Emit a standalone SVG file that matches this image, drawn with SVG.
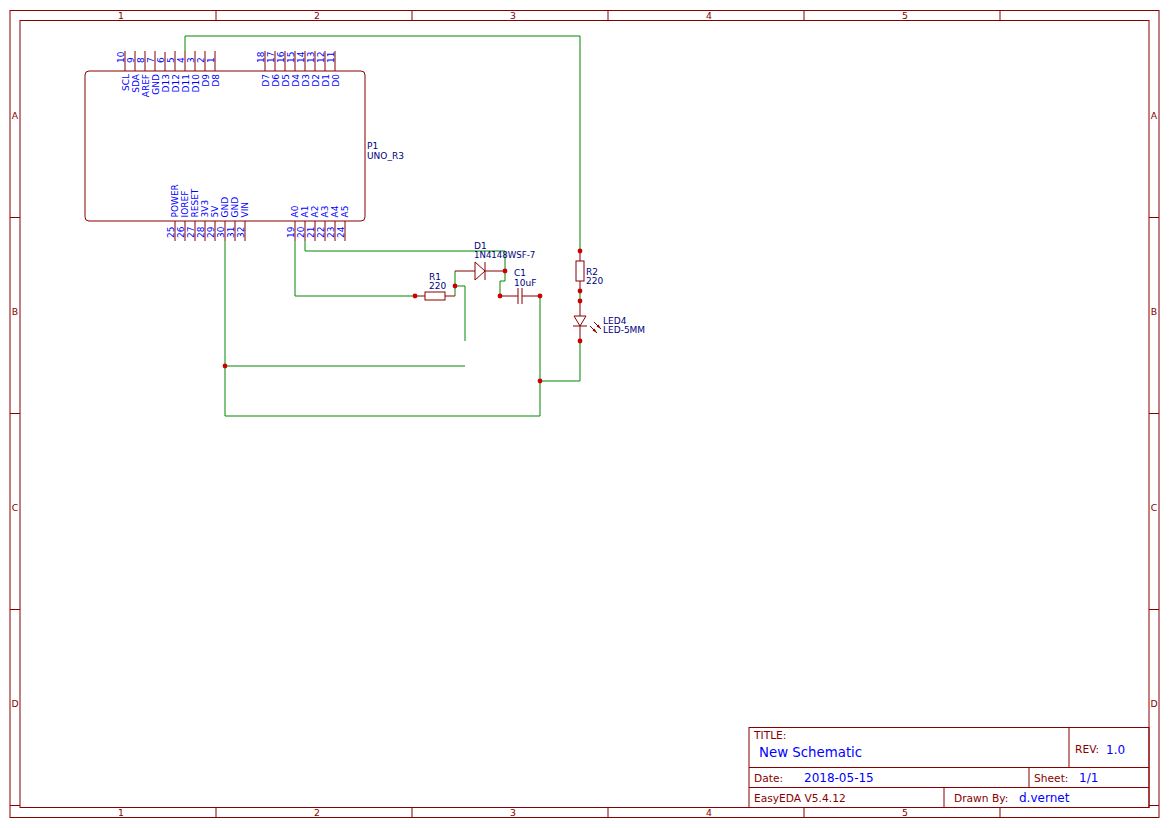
<svg xmlns="http://www.w3.org/2000/svg" width="1169" height="828" viewBox="0 0 1169 828">
<defs><style>
text{font-family:"DejaVu Sans",sans-serif;white-space:pre}
.f{fill:none;stroke:#880000;stroke-width:1}
.p{fill:none;stroke:#880000;stroke-width:1}
.a{fill:#880000;stroke:none}
.w{fill:none;stroke:#008800;stroke-width:1}
.ft{font-size:9.300px;fill:#880000;text-anchor:middle}
.tl{font-size:10.670px;fill:#880000}
.tv{fill:#0000ff}
.pn{font-size:9px;fill:#0000ff}
.an{font-size:9px;fill:#000080}
.j{fill:#cc0000}
</style></defs>
<rect width="1169" height="828" fill="#ffffff"/>
<g id="frame">
<rect class="f" x="10" y="10.5" width="1149" height="807"/>
<rect class="f" x="20" y="20.5" width="1129" height="787"/>
<path class="f" d="M216 10.500V20.500M412 10.500V20.500M608 10.500V20.500M804 10.500V20.500M1000 10.500V20.500M216 807.500V817.500M412 807.500V817.500M608 807.500V817.500M804 807.500V817.500M1000 807.500V817.500M10 217.500H20M10 413.500H20M10 609.500H20M10 805.500H20M1149 217.500H1159M1149 413.500H1159M1149 609.500H1159M1149 805.500H1159"/>
<g class="ft">
<text x="121" y="19">1</text><text x="317" y="19">2</text><text x="513" y="19">3</text><text x="709" y="19">4</text><text x="905" y="19">5</text>
<text x="121" y="816">1</text><text x="317" y="816">2</text><text x="513" y="816">3</text><text x="709" y="816">4</text><text x="905" y="816">5</text>
<text x="15" y="119">A</text><text x="15" y="315">B</text><text x="15" y="511">C</text><text x="15" y="707">D</text>
<text x="1154" y="119">A</text><text x="1154" y="315">B</text><text x="1154" y="511">C</text><text x="1154" y="707">D</text>
</g>
</g>
<g id="title-block">
<rect class="f" x="749" y="727.500" width="400" height="80"/>
<path class="f" d="M749 767.500H1149M749 787.500H1149M1069 727.500V767.500M1029 767.500V787.500M944 787.500V807.500"/>
<text class="tl" x="754" y="739">TITLE:</text>
<text class="tv" x="759" y="757" font-size="13.330">New Schematic</text>
<text class="tl" x="1075" y="753">REV:</text>
<text class="tv" x="1106" y="754" font-size="12">1.0</text>
<text class="tl" x="754" y="782">Date:</text>
<text class="tv" x="804" y="782" font-size="12">2018-05-15</text>
<text class="tl" x="1034" y="782">Sheet:</text>
<text class="tv" x="1079" y="782" font-size="12">1/1</text>
<text class="tl" x="754" y="802">EasyEDA V5.4.12</text>
<text class="tl" x="954" y="802">Drawn By:</text>
<text class="tv" x="1019" y="802" font-size="12">d.vernet</text>
</g>
<g id="connectors">
<path class="w" d="M185 51V36H580V252"/>
<path class="w" d="M295 241V296H415"/>
<path class="w" d="M305 241V251H505V271"/>
<path class="w" d="M225 241V416H540V296"/>
<path class="w" d="M225 366H465"/>
<path class="w" d="M455 286H465V341"/>
<path class="w" d="M455 296V271"/>
<path class="w" d="M505 271V281H500V296"/>
<path class="w" d="M540 381H580V341"/>
<path class="w" d="M580 291V301"/>
</g>
<g id="P1">
<rect class="p" x="85" y="71" width="280" height="150" rx="4" ry="4"/>
<path class="p" d="M125 51V71M135 51V71M145 51V71M155 51V71M165 52V71M175 51V71M185 51V71M195 51V71M205 51V71M215 51V71M265 51V71M275 51V71M285 51V71M295 51V71M305 51V71M315 51V71M325 51V71M335 51V71M175 221V241M185 221V241M195 221V241M205 221V241M215 221V241M225 221V241M235 221V241M245 221V241M295 221V241M305 221V241M315 221V241M325 221V241M335 221V241M345 221V241"/>
<g class="pn" text-anchor="end">
<text transform="translate(124 63) rotate(-90)" text-anchor="start">10</text>
<text transform="translate(134 63) rotate(-90)" text-anchor="start">9</text>
<text transform="translate(144 63) rotate(-90)" text-anchor="start">8</text>
<text transform="translate(154 63) rotate(-90)" text-anchor="start">7</text>
<text transform="translate(164 63) rotate(-90)" text-anchor="start">6</text>
<text transform="translate(174 63) rotate(-90)" text-anchor="start">5</text>
<text transform="translate(184 63) rotate(-90)" text-anchor="start">4</text>
<text transform="translate(194 63) rotate(-90)" text-anchor="start">3</text>
<text transform="translate(204 63) rotate(-90)" text-anchor="start">2</text>
<text transform="translate(214 63) rotate(-90)" text-anchor="start">1</text>
<text transform="translate(264 63) rotate(-90)" text-anchor="start">18</text>
<text transform="translate(274 63) rotate(-90)" text-anchor="start">17</text>
<text transform="translate(284 63) rotate(-90)" text-anchor="start">16</text>
<text transform="translate(294 63) rotate(-90)" text-anchor="start">15</text>
<text transform="translate(304 63) rotate(-90)" text-anchor="start">14</text>
<text transform="translate(314 63) rotate(-90)" text-anchor="start">13</text>
<text transform="translate(324 63) rotate(-90)" text-anchor="start">12</text>
<text transform="translate(334 63) rotate(-90)" text-anchor="start">11</text>
<text transform="translate(128.500 74) rotate(-90)">SCL</text>
<text transform="translate(138.500 74) rotate(-90)">SDA</text>
<text transform="translate(148.500 74) rotate(-90)">AREF</text>
<text transform="translate(158.500 74) rotate(-90)">GND</text>
<text transform="translate(168.500 74) rotate(-90)">D13</text>
<text transform="translate(178.500 74) rotate(-90)">D12</text>
<text transform="translate(188.500 74) rotate(-90)">D11</text>
<text transform="translate(198.500 74) rotate(-90)">D10</text>
<text transform="translate(208.500 74) rotate(-90)">D9</text>
<text transform="translate(218.500 74) rotate(-90)">D8</text>
<text transform="translate(268.500 74) rotate(-90)">D7</text>
<text transform="translate(278.500 74) rotate(-90)">D6</text>
<text transform="translate(288.500 74) rotate(-90)">D5</text>
<text transform="translate(298.500 74) rotate(-90)">D4</text>
<text transform="translate(308.500 74) rotate(-90)">D3</text>
<text transform="translate(318.500 74) rotate(-90)">D2</text>
<text transform="translate(328.500 74) rotate(-90)">D1</text>
<text transform="translate(338.500 74) rotate(-90)">D0</text>
<text transform="translate(178 217.500) rotate(-90)" text-anchor="start">POWER</text>
<text transform="translate(188 217.500) rotate(-90)" text-anchor="start">IOREF</text>
<text transform="translate(198 217.500) rotate(-90)" text-anchor="start">RESET</text>
<text transform="translate(208 217.500) rotate(-90)" text-anchor="start">3V3</text>
<text transform="translate(218 217.500) rotate(-90)" text-anchor="start">5V</text>
<text transform="translate(228 217.500) rotate(-90)" text-anchor="start">GND</text>
<text transform="translate(238 217.500) rotate(-90)" text-anchor="start">GND</text>
<text transform="translate(248 217.500) rotate(-90)" text-anchor="start">VIN</text>
<text transform="translate(298 217.500) rotate(-90)" text-anchor="start">A0</text>
<text transform="translate(308 217.500) rotate(-90)" text-anchor="start">A1</text>
<text transform="translate(318 217.500) rotate(-90)" text-anchor="start">A2</text>
<text transform="translate(328 217.500) rotate(-90)" text-anchor="start">A3</text>
<text transform="translate(338 217.500) rotate(-90)" text-anchor="start">A4</text>
<text transform="translate(348 217.500) rotate(-90)" text-anchor="start">A5</text>
<text transform="translate(173.500 238) rotate(-90)" text-anchor="start">25</text>
<text transform="translate(183.500 238) rotate(-90)" text-anchor="start">26</text>
<text transform="translate(193.500 238) rotate(-90)" text-anchor="start">27</text>
<text transform="translate(203.500 238) rotate(-90)" text-anchor="start">28</text>
<text transform="translate(213.500 238) rotate(-90)" text-anchor="start">29</text>
<text transform="translate(223.500 238) rotate(-90)" text-anchor="start">30</text>
<text transform="translate(233.500 238) rotate(-90)" text-anchor="start">31</text>
<text transform="translate(243.500 238) rotate(-90)" text-anchor="start">32</text>
<text transform="translate(293.500 238) rotate(-90)" text-anchor="start">19</text>
<text transform="translate(303.500 238) rotate(-90)" text-anchor="start">20</text>
<text transform="translate(313.500 238) rotate(-90)" text-anchor="start">21</text>
<text transform="translate(323.500 238) rotate(-90)" text-anchor="start">22</text>
<text transform="translate(333.500 238) rotate(-90)" text-anchor="start">23</text>
<text transform="translate(343.500 238) rotate(-90)" text-anchor="start">24</text>
</g>
<text class="an" x="367" y="149">P1</text>
<text class="an" x="367" y="158.500">UNO_R3</text>
</g>
<g id="R1">
<rect class="p" x="425" y="292" width="20" height="8"/>
<path class="p" d="M415 296H425M445 296H455"/>
<text class="an" x="429" y="280">R1</text>
<text class="an" x="429" y="289">220</text>
</g>
<g id="D1">
<path class="p" d="M455 271H475M485 271H505M475 262V280L485 271ZM485 262V280"/>
<text class="an" x="474" y="249">D1</text>
<text class="an" x="474" y="258" font-size="8.600" style="font-size:8.600px">1N4148WSF-7</text>
</g>
<g id="C1">
<path class="p" d="M500 296H518M522 296H540M518 288V304M522 288V304"/>
<text class="an" x="514" y="276">C1</text>
<text class="an" x="514" y="286">10uF</text>
</g>
<g id="R2">
<rect class="p" x="576" y="261" width="8" height="20"/>
<path class="p" d="M580 251V261M580 281V291"/>
<text class="an" x="586" y="275">R2</text>
<text class="an" x="586" y="284">220</text>
</g>
<g id="LED4">
<path class="p" d="M580 301V316M580 326V341M574 316H586L580 326ZM573 326H587M590 326L597 333M594 322L601 329"/>
<path class="a" d="M597 333L592.500 330.500L594.500 328.500ZM601 329L596.500 326.500L598.500 324.500Z"/>
<text class="an" x="603" y="324">LED4</text>
<text class="an" x="603" y="333">LED-5MM</text>
</g>
<g id="junctions" class="j">
<circle cx="415" cy="296" r="2.400"/><circle cx="455" cy="286" r="2.400"/><circle cx="505" cy="271" r="2.400"/><circle cx="500" cy="296" r="2.400"/><circle cx="540" cy="296" r="2.400"/><circle cx="580" cy="251" r="2.400"/><circle cx="580" cy="291" r="2.400"/><circle cx="580" cy="301" r="2.400"/><circle cx="580" cy="341" r="2.400"/><circle cx="540" cy="381" r="2.400"/><circle cx="225" cy="366" r="2.400"/>
</g>
</svg>
